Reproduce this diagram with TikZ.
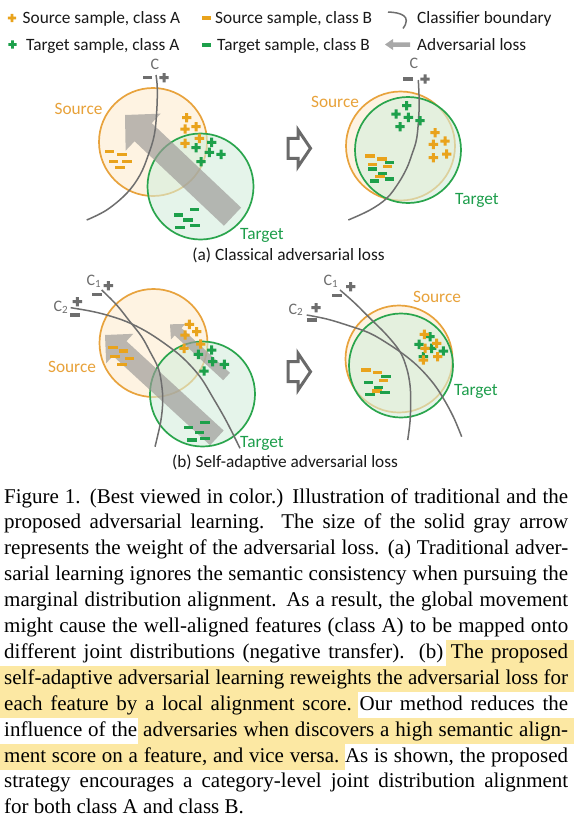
\documentclass[tikz,border=0pt]{standalone}
\usepackage{fontspec}
\setmainfont{Liberation Serif}
\newfontfamily\calfont{Carlito}
\definecolor{srcA}{HTML}{E9A31C}
\definecolor{srcLine}{HTML}{E8A33D}
\definecolor{srcFill}{HTML}{FEF3E2}
\definecolor{srcLab}{HTML}{E8A23A}
\definecolor{tgtA}{HTML}{1DA04B}
\definecolor{tgtLine}{HTML}{2AA54D}
\definecolor{tgtFill}{HTML}{D4EEDC}
\definecolor{tgtLab}{HTML}{1E9E4C}
\definecolor{clsGray}{HTML}{6E6E6E}
\definecolor{advGray}{HTML}{9C9A97}
\definecolor{legArrow}{HTML}{A8A8A8}
\definecolor{hollowGray}{HTML}{6A6A6A}
\definecolor{hlc}{HTML}{FCE8A3}
% highlight machinery
\newcommand\hlword[1]{\setbox0\hbox{#1}\rlap{\textcolor{hlc}{\rule[-7.5pt]{\wd0}{26pt}}}\box0}
\newcommand\hlsp{{\color{hlc}\leaders\vrule height 18.5pt depth 7.5pt\hskip\fontdimen2\font plus\fontdimen3\font minus\fontdimen4\font}}
\newcommand\hlstart{\llap{\textcolor{hlc}{\rule[-7.5pt]{5pt}{26pt}}}}
\newcommand\hlend{\rlap{\textcolor{hlc}{\rule[-7.5pt]{6pt}{26pt}}}}
\def\hlphrase#1{\hlstart\hlloop#1 \relax\hlend}
\def\hlloop#1 #2\relax{\hlword{#1}\ifx\relax#2\relax\else\hlsp\hlloop#2\relax\fi}
\tikzset{
  mplus/.pic={\fill[pic actions] (-4.7,-1.5) rectangle (4.7,1.5) (-1.5,-4.7) rectangle (1.5,4.7);},
  mbar/.pic={\fill[pic actions] (-4.8,-1.7) rectangle (4.8,1.7);},
  lplus/.pic={\fill[pic actions] (-4.2,-1.4) rectangle (4.2,1.4) (-1.4,-4.2) rectangle (1.4,4.2);},
  lbar/.pic={\fill[pic actions] (-4.8,-1.7) rectangle (4.8,1.7);},
  srccirc/.style={draw=srcLine, line width=1.7pt, fill=srcFill},
  tgtcirc/.style={draw=tgtLine, line width=1.7pt, fill=tgtFill, fill opacity=0.6},
  advfill/.style={fill=advGray, fill opacity=0.68},
  cls/.style={draw=clsGray, line width=1.5pt},
  hollow/.style={draw=hollowGray, line width=3pt, fill=white},
  srclab/.style={text=srcLab, anchor=base, inner sep=0pt},
  tgtlab/.style={text=tgtLab, anchor=base west, inner sep=0pt},
  clab/.style={text=clsGray, anchor=base west, inner sep=0pt, font=\calfont\fontsize{16}{18}\selectfont},
  legtext/.style={anchor=base west, inner sep=0pt, text=black!90},
  captext/.style={anchor=base, inner sep=0pt, text=black!90},
  capline/.style={anchor=base west, inner sep=0pt, font=\rmfamily\fontsize{21}{25.9}\selectfont},
}
\newcommand\advarrow[8]{\begin{scope}[shift={(#1,#2)},rotate=#3]
\fill[#8] (0,0) -- (-#7,#6/2) -- (-#7,#5/2) -- (-#4,#5/2) -- (-#4,-#5/2) -- (-#7,-#5/2) -- (-#7,-#6/2) -- cycle;\end{scope}}
\newcommand\hollowarrow[2]{\begin{scope}[shift={(#1,#2)}]\draw[hollow] (-11,-10) -- (-1,-10) -- (-1,-18.5) -- (11.5,0) -- (-1,18.5) -- (-1,10) -- (-11,10) -- cycle;\end{scope}}
\begin{document}
\begin{tikzpicture}[x=1pt,y=-1pt,font=\calfont\fontsize{17.3}{20}\selectfont]
\useasboundingbox (0,0) rectangle (584,835);
\fill[white] (0,0) rectangle (584,835);
% ---------------- legend
\pic[fill=srcA] at (12,18) {lplus};
\node[legtext] (lgSA) at (22.5,23.5) {Source sample, class A};
\pic[fill=srcA] at (206.5,18) {lbar};
\node[legtext] (lgSB) at (215,23.5) {Source sample, class B};
\draw[cls] (388,12) .. controls (401,12.5) and (412,16) .. (403,28.5);
\node[legtext] (lgCB) at (417,23.5) {Classifier boundary};
\pic[fill=tgtA] at (12.5,44.5) {lplus};
\node[legtext] (lgTA) at (26,50) {Target sample, class A};
\pic[fill=tgtA] at (206.5,45) {lbar};
\node[legtext] (lgTB) at (217,50) {Target sample, class B};
\advarrow{385}{44.5}{180}{25}{4.5}{11}{8}{fill=legArrow}
\node[legtext] (lgAL) at (417,50) {Adversarial loss};
% ---------------- (a) left
\draw[srccirc] (153,142) circle[radius=54];
\draw[tgtcirc] (200.5,186.5) circle[radius=53];
\advarrow{125}{115}{136.6}{148}{25}{51}{25}{advfill}
\draw[cls] plot[smooth,tension=0.6] coordinates {(156,75) (157.3,88.3) (156.7,111.7) (154.3,135) (148.3,155) (140,175) (126.7,193.3) (106.7,210) (86.7,220)};
\foreach \x/\y in {186.7/117.7,185/129,196/126.7,199.3/138.3,185/143.3} \pic[fill=srcA] at (\x,\y) {mplus};
\foreach \x/\y in {196/147.7,211.7/142.3,209.3/152.3,221/154.3,201/161.7} \pic[fill=tgtA] at (\x,\y) {mplus};
\foreach \x/\y in {109.3/151.7,121.7/154.3,113.3/161.7,126.7/161.7,120/167.7} \pic[fill=srcA] at (\x,\y) {mbar};
\foreach \x/\y in {194.3/209.3,178.3/215,187.7/220,180/227.3,195/225.7} \pic[fill=tgtA] at (\x,\y) {mbar};
\node[srclab] (aLsrc) at (78.5,114.5) {Source};
\node[tgtlab] (aLtgt) at (240,239.5) {Target};
\node[clab,anchor=base] (aLc) at (155,69.5) {C};
\pic[fill=clsGray] at (147.3,77.7) {mbar};
\pic[fill=clsGray] at (164,77.7) {mplus};
% hollow arrow (a)
\hollowarrow{299}{148.3}
% ---------------- (a) right
\draw[srccirc] (400.5,146) circle[radius=54.5];
\draw[tgtcirc] (408,150) circle[radius=53];
\draw[cls] plot[smooth,tension=0.6] coordinates {(418.3,80) (419,95) (419,111.7) (416.7,138.3) (411.7,155) (406.7,168.3) (398.3,183.3) (386.7,198.3) (370,210) (348.3,220)};
\foreach \x/\y in {396/114,406.7/105.7,408.3/117.3,420/120.7,400/126.7} \pic[fill=tgtA] at (\x,\y) {mplus};
\foreach \x/\y in {435/132.7,433.3/144.3,445/141,433.3/157.7,446.7/154} \pic[fill=srcA] at (\x,\y) {mplus};
\foreach \x/\y in {370/156,381.7/159,372.3/164.3,387.3/166.7,380/176.7} \pic[fill=srcA] at (\x,\y) {mbar};
\foreach \x/\y in {389.3/162.7,372.3/169,382.3/173.3,374.3/181,389.3/179} \pic[fill=tgtA] at (\x,\y) {mbar};
\node[srclab] (aRsrc) at (335,107.5) {Source};
\node[tgtlab] (aRtgt) at (455,204.5) {Target};
\node[clab,anchor=base] (aRc) at (414,68.5) {C};
\pic[fill=clsGray] at (407.7,79) {mbar};
\pic[fill=clsGray] at (425,79) {mplus};
\node[captext] (capa) at (288.5,260) {(a) Classical adversarial loss};
% ---------------- (b) left
\draw[srccirc] (153.5,343) circle[radius=54];
\draw[tgtcirc] (202.5,394) circle[radius=52.5];
\advarrow{105}{335}{137.4}{152}{20}{40}{20}{advfill}
\advarrow{170}{324.3}{137.3}{77}{10}{21}{11}{advfill}
\draw[cls] plot[smooth,tension=0.6] coordinates {(101.7,290) (116.7,305) (130,321.7) (141.7,336.7) (150,351.7) (158.3,368.3) (161.7,385) (162.7,401.7) (160.7,421.7) (155,446.7)};
\draw[cls] plot[smooth,tension=0.6] coordinates {(70.7,307.7) (90,311) (106.7,315) (126.7,321.7) (146.7,331.7) (166.7,345) (183.3,358.3) (200,376.7) (213.3,398.3) (226.7,421.7) (240,448.3)};
\foreach \x/\y in {189.3/324.3,185/335,196.7/331.7,200.7/344,184/348.3} \pic[fill=srcA] at (\x,\y) {mplus};
\foreach \x/\y in {198.3/354.3,211.7/350,212.7/361.7,224.3/364.3,204/371} \pic[fill=tgtA] at (\x,\y) {mplus};
\foreach \x/\y in {112.7/347.7,123.3/351,115/356.7,129.3/358.3,121.7/364.3} \pic[fill=srcA] at (\x,\y) {mbar};
\foreach \x/\y in {205/422.3,188.3/427.7,199.3/432.7,191.7/440,205/438.3} \pic[fill=tgtA] at (\x,\y) {mbar};
\node[srclab] (bLsrc) at (72,372.5) {Source};
\node[tgtlab] (bLtgt) at (240,447.5) {Target};
\node[clab] (bLc1) at (86.5,285.5) {C\raisebox{-0.12em}{\fontsize{11}{12}\selectfont 1}};
\node[clab] (bLc2) at (53.3,311.5) {C\raisebox{-0.12em}{\fontsize{11}{12}\selectfont 2}};
\pic[fill=clsGray] at (108.3,285.7) {mplus};
\pic[fill=clsGray] at (96.7,294.3) {mbar};
\pic[fill=clsGray] at (77.3,301.7) {mplus};
\pic[fill=clsGray] at (75,315) {mbar};
% hollow arrow (b)
\hollowarrow{299}{371.7}
% ---------------- (b) right
\draw[srccirc] (399,359) circle[radius=53.5];
\draw[tgtcirc] (401,365.5) circle[radius=52];
\draw[cls] plot[smooth,tension=0.6] coordinates {(340,290) (355,303.3) (370,318.3) (386.7,335) (400,351.7) (406.7,368.3) (410,385) (410.7,401.7) (410,421.7) (407.7,440)};
\draw[cls] plot[smooth,tension=0.6] coordinates {(306.7,315) (326.7,319) (346.7,325) (370,333.3) (390,345) (406.7,356.7) (420,368.3) (433.3,383.3) (443.3,398.3) (453.3,416.7) (461.7,436.7)};
\foreach \x/\y in {430/336.7,419/344.3,431.7/348.3,443.3/351,423.3/356.7} \pic[fill=tgtA] at (\x,\y) {mplus};
\foreach \x/\y in {424.3/334.3,436.7/343.3,425/348.3,437.7/356.7,423.3/360} \pic[fill=srcA] at (\x,\y) {mplus};
\foreach \x/\y in {366/370,377.3/372.3,383.3/380.7,376.7/391} \pic[fill=srcA] at (\x,\y) {mbar};
\foreach \x/\y in {386/376.7,368.3/382.3,378.3/387.3,370/394.3,385/392.7} \pic[fill=tgtA] at (\x,\y) {mbar};
\node[srclab] (bRsrc) at (437,302.5) {Source};
\node[tgtlab] (bRtgt) at (454,395.5) {Target};
\node[clab] (bRc1) at (323.3,285.5) {C\raisebox{-0.12em}{\fontsize{11}{12}\selectfont 1}};
\node[clab] (bRc2) at (288.3,314) {C\raisebox{-0.12em}{\fontsize{11}{12}\selectfont 2}};
\pic[fill=clsGray] at (350.7,286.7) {mplus};
\pic[fill=clsGray] at (336.7,295.7) {mbar};
\pic[fill=clsGray] at (316,307.7) {mplus};
\pic[fill=clsGray] at (311.7,320) {mbar};
\node[captext] (capb) at (285,467) {(b) Self-adaptive adversarial loss};
% ---------------- caption
\node[capline] (cap1) at (4,503) {\makebox[564pt][s]{Figure 1. (Best viewed in color.) Illustration of traditional and the}};
\node[capline] (cap2) at (4,528.9) {\makebox[564pt][s]{proposed adversarial learning. The size of the solid gray arrow}};
\node[capline] (cap3) at (4,554.8) {\makebox[564pt][s]{represents the weight of the adversarial loss. (a) Traditional adver-}};
\node[capline] (cap4) at (4,580.7) {\makebox[564pt][s]{sarial learning ignores the semantic consistency when pursuing the}};
\node[capline] (cap5) at (4,606.6) {\makebox[564pt][s]{marginal distribution alignment. As a result, the global movement}};
\node[capline] (cap6) at (4,632.5) {\makebox[564pt][s]{might cause the well-aligned features (class A) to be mapped onto}};
\node[capline] (cap7) at (4,658.4) {\makebox[564pt][s]{different joint distributions (negative transfer). (b) \hlphrase{The proposed}}};
\node[capline] (cap8) at (4,684.3) {\makebox[564pt][s]{\hlphrase{self-adaptive adversarial learning reweights the adversarial loss for}}};
\node[capline] (cap9) at (4,710.2) {\makebox[564pt][s]{\hlphrase{each feature by a local alignment score.} Our method reduces the}};
\node[capline] (cap10) at (4,736.1) {\makebox[564pt][s]{influence of the \hlphrase{adversaries when discovers a high semantic align-}}};
\node[capline] (cap11) at (4,762) {\makebox[564pt][s]{\hlphrase{ment score on a feature, and vice versa.} As is shown, the proposed}};
\node[capline] (cap12) at (4,787.9) {\makebox[564pt][s]{strategy encourages a category-level joint distribution alignment}};
\node[capline] (cap13) at (4,813.8) {for both class A and class B.};
\end{tikzpicture}
\end{document}
